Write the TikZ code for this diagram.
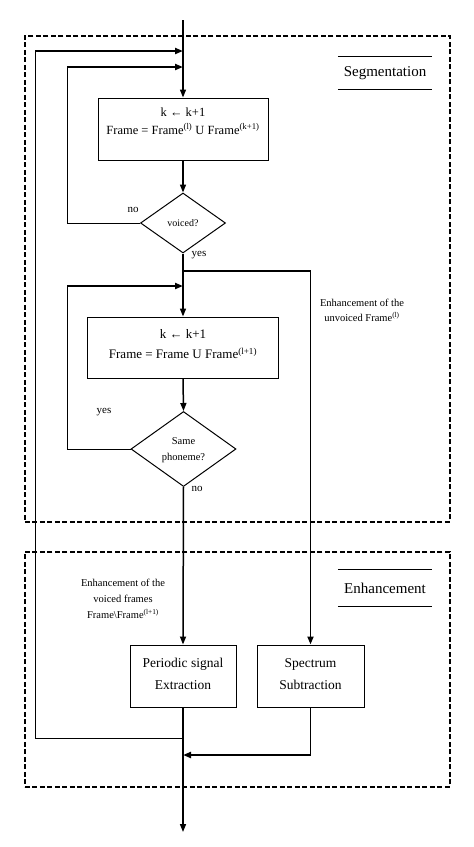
\documentclass[tikz,border=0pt]{standalone}
\usepackage{fontspec}
\setmainfont{Liberation Serif}
\usetikzlibrary{arrows.meta,shapes.geometric}
\begin{document}
\begin{tikzpicture}[x=1pt,y=-1pt,
  thinln/.style={line width=0.9pt},
  mainln/.style={line width=1.5pt},
  thickln/.style={line width=2.4pt},
  arr/.style={-{Triangle[length=8pt,width=6pt]}},
  procbox/.style={draw,line width=1pt,rectangle,inner sep=0pt},
  decbox/.style={draw,line width=1pt,diamond,inner sep=0pt},
  region/.style={draw,line width=1.6pt,dash pattern=on 5pt off 2.5pt,rectangle,inner sep=0pt,anchor=north west},
  lbl/.style={inner sep=0pt,align=center,font=\fontsize{10.5}{15}\selectfont},
  boxtxt/.style={inner sep=0pt,align=center,font=\fontsize{12.5}{18}\selectfont},
  tagbox/.style={inner sep=0pt,minimum width=94pt,font=\fontsize{15}{17}\selectfont},
]
\useasboundingbox (0,0) rectangle (474,847);
\fill[white] (0,0) rectangle (474,847);

% regions
\node[region,minimum width=425pt,minimum height=486pt] (seg) at (24,35) {};
\node[region,minimum width=425pt,minimum height=235pt] (enh) at (24,551) {};
\node[tagbox,minimum height=32pt] (segtag) at (385,73) {Segmentation};
\draw[thinln] (segtag.north west) -- (segtag.north east);
\draw[thinln] (segtag.south west) -- (segtag.south east);
\node[tagbox,minimum height=36pt] (enhtag) at (385,588) {Enhancement};
\draw[thinln] (enhtag.north west) -- (enhtag.north east);
\draw[thinln] (enhtag.south west) -- (enhtag.south east);

% nodes
\coordinate (in) at (183,20);
\coordinate (j1) at (183,51);
\coordinate (j2) at (183,67);
\node[procbox,minimum width=170pt,minimum height=62pt] (box1) at (183,129) {};
\node[boxtxt] (box1t) at (183,121) {k ← k+1\\Frame = Frame\textsuperscript{(l)} U Frame\textsuperscript{(k+1)}};
\node[decbox,minimum width=85pt,minimum height=60pt] (d1) at (183,223) {};
\node[lbl,font=\fontsize{10}{12}\selectfont] (d1t) at (183,223) {voiced?};
\coordinate (br) at (183,271);
\coordinate (j3) at (183,286);
\node[procbox,minimum width=191pt,minimum height=61pt] (box2) at (183,347.5) {};
\node[boxtxt,font=\fontsize{13}{20}\selectfont] (box2t) at (183,344) {k ← k+1\\Frame = Frame U Frame\textsuperscript{(l+1)}};
\node[decbox,minimum width=105pt,minimum height=75pt] (d2) at (183.5,449) {};
\node[lbl,font=\fontsize{10.5}{16}\selectfont] (d2t) at (183.5,450) {Same\\phoneme?};
\node[procbox,minimum width=106pt,minimum height=62pt] (pe) at (183,676) {};
\node[boxtxt,font=\fontsize{13.5}{22}\selectfont] (pet) at (183,674) {Periodic signal\\Extraction};
\node[procbox,minimum width=107pt,minimum height=62pt] (sp) at (310.5,676) {};
\node[boxtxt,font=\fontsize{13.5}{22}\selectfont] (spt) at (310.5,674) {Spectrum\\Subtraction};
\coordinate (out) at (183,832);
\coordinate (j4) at (183,738);
\coordinate (j5) at (183,755);
\coordinate (l0bot) at (35,738);
\coordinate (l0top) at (35,51);
\coordinate (l1top) at (67,67);
\coordinate (l2top) at (67,286);
\coordinate (c5) at (310.5,755);

% labels
\node[lbl,font=\fontsize{11}{13}\selectfont] (no1) at (133,210) {no};
\node[lbl,font=\fontsize{11}{13}\selectfont] (yes1) at (199,255) {yes};
\node[lbl,font=\fontsize{11}{13}\selectfont] (yes2) at (104,412) {yes};
\node[lbl,font=\fontsize{11}{13}\selectfont] (no2) at (197,489) {no};
\node[lbl] (unv) at (362,310) {Enhancement of the\\unvoiced Frame\textsuperscript{(l)}};
\node[lbl,font=\fontsize{10.5}{16}\selectfont] (voi) at (123,599) {Enhancement of the\\voiced frames\\Frame\textbackslash Frame\textsuperscript{(l+1)}};

% main flow
\draw[mainln,arr] (in) -- (box1.north);
\draw[mainln,arr] (box1.south) -- (d1.north);
\draw[mainln,arr] (d1.south) -- (box2.north);
\draw[mainln,arr] (box2.south) -- (d2.north);
\draw[mainln,arr] (d2.south) -- (pe.north);
\draw[mainln,arr] (pe.south) -- (out);

% loops
\draw[thinln] (j4) -- (l0bot) -- (l0top);
\draw[thickln,arr] (l0top) -- (j1);
\draw[thinln] (d1.west) -| (l1top);
\draw[thickln,arr] (l1top) -- (j2);
\draw[thinln] (d2.west) -| (l2top);
\draw[thickln,arr] (l2top) -- (j3);

% unvoiced branch
\draw[line width=1.8pt,arr] (br) -| (sp.north);
\draw[thinln] (sp.south) -- (c5);
\draw[thickln,arr] (c5) -- (j5);
\end{tikzpicture}
\end{document}
